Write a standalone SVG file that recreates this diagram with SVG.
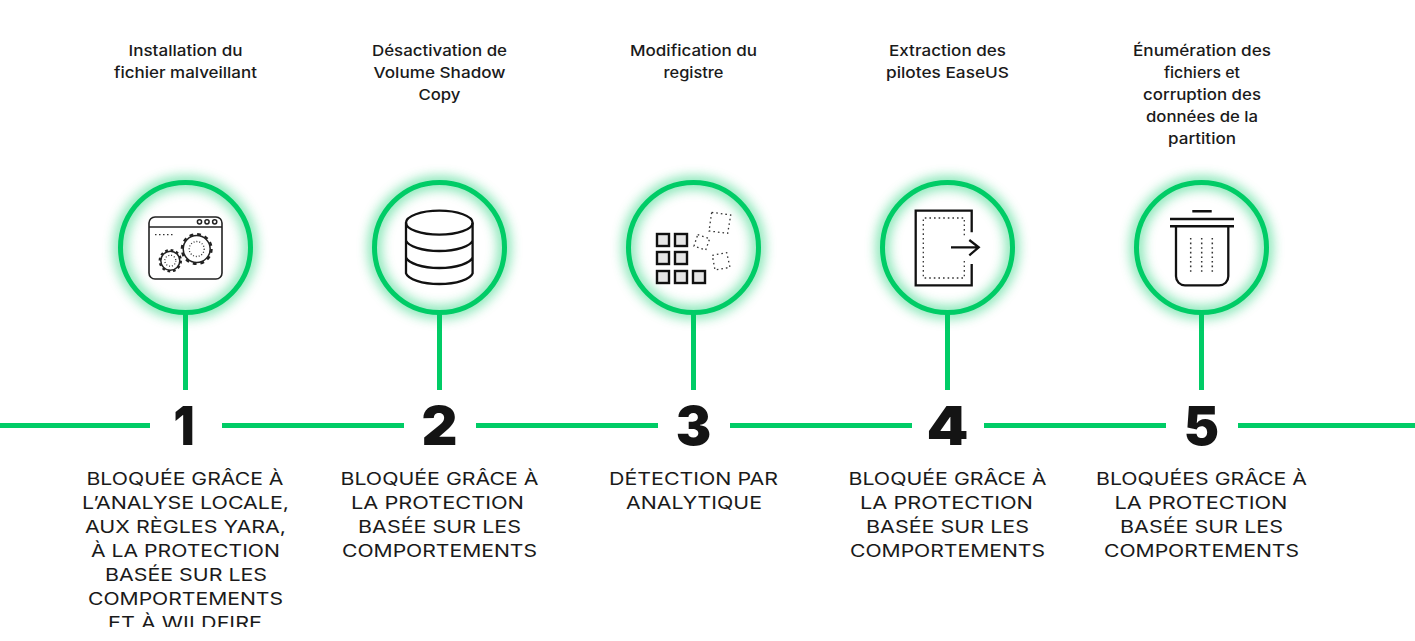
<svg xmlns="http://www.w3.org/2000/svg" width="1415" height="641" viewBox="0 0 1415 641">
<style>
.t{font-family:Inter,"Liberation Sans",sans-serif;font-size:15px;font-weight:500;fill:#1a1a1a;text-anchor:middle}
.b{font-family:Inter,"Liberation Sans",sans-serif;font-size:17px;font-weight:400;fill:#1a1a1a;text-anchor:middle}
.n{font-family:Inter,"Liberation Sans",sans-serif;font-size:53px;font-weight:900;fill:#141414;text-anchor:middle}
.bg{fill:#fff}
.ring{fill:none;stroke:#00cc66;stroke-width:5}
.glow{fill:none;stroke:#00cc66;stroke-width:9;opacity:.7;filter:url(#g)}
.c{fill:none;stroke:#00cc66;stroke-width:5}
.i{fill:none;stroke:#111;stroke-width:2.3}
.d{fill:none;stroke:#333;stroke-width:1.3;stroke-dasharray:1.6 3}
.s{fill:#e6e6e6;stroke:#111;stroke-width:2.4}
</style>
<defs>
<filter id="g" x="-30%" y="-30%" width="160%" height="160%"><feGaussianBlur stdDeviation="6.500"/></filter>
<clipPath id="clip"><rect x="0" y="0" width="1415" height="627"/></clipPath>
</defs>
<rect width="1415" height="641" fill="#fff"/>
<g id="connectors">
<path class="c" d="M0 425.500H150M222 425.500H404M476 425.500H658M730 425.500H912M984 425.500H1166M1238 425.500H1415"/>
<path class="c" d="M185.500 313V390M439.500 313V390M693.500 313V390M947.500 313V390M1201.500 313V390"/>
</g>
<g id="node-1">
<text class="t"><tspan x="185.500" y="56" textLength="114" lengthAdjust="spacingAndGlyphs">Installation du</tspan><tspan x="185.500" y="78" textLength="143" lengthAdjust="spacingAndGlyphs">fichier malveillant</tspan></text>
<circle class="bg" cx="185.500" cy="247.500" r="65"/><circle class="glow" cx="185.500" cy="247.500" r="65"/><circle class="ring" cx="185.500" cy="247.500" r="65"/>
<rect x="149" y="217" width="73" height="62" rx="6" fill="none" stroke="#222" stroke-width="1.600"/>
<path d="M149 227H222" fill="none" stroke="#222" stroke-width="1.600"/>
<circle cx="199.500" cy="221.800" r="2.100" fill="none" stroke="#222" stroke-width="1.500"/><circle cx="207" cy="221.800" r="2.100" fill="none" stroke="#222" stroke-width="1.500"/><circle cx="214.700" cy="221.800" r="2.100" fill="none" stroke="#222" stroke-width="1.500"/>
<path class="d" d="M155 234.700H173" style="stroke-dasharray:1.500 2.500"/>
<circle cx="170.300" cy="260.700" r="9.500" fill="#fff" stroke="#222" stroke-width="1.500"/>
<circle cx="170.300" cy="260.700" r="10.500" fill="none" stroke="#222" stroke-width="2.400" stroke-dasharray="2.700 2.800"/>
<circle cx="170.300" cy="260.700" r="5.500" class="d" style="stroke-dasharray:1 1.900"/>
<circle cx="196.700" cy="249" r="13.500" fill="#fff" stroke="#222" stroke-width="1.500"/>
<circle cx="196.700" cy="249" r="14.800" fill="none" stroke="#222" stroke-width="2.400" stroke-dasharray="3.800 3.950"/>
<circle cx="196.700" cy="249" r="7.500" class="d" style="stroke-dasharray:1 1.900"/>
<text class="n" x="184" y="445" textLength="21" lengthAdjust="spacingAndGlyphs">1</text>
<g clip-path="url(#clip)"><text class="b"><tspan x="185" y="485" textLength="197" lengthAdjust="spacingAndGlyphs">BLOQUÉE GRÂCE À</tspan><tspan x="185.500" y="509" textLength="207" lengthAdjust="spacingAndGlyphs">L’ANALYSE LOCALE,</tspan><tspan x="185.500" y="533" textLength="201" lengthAdjust="spacingAndGlyphs">AUX RÈGLES YARA,</tspan><tspan x="185.500" y="557" textLength="189" lengthAdjust="spacingAndGlyphs">À LA PROTECTION</tspan><tspan x="186" y="581" textLength="162" lengthAdjust="spacingAndGlyphs">BASÉE SUR LES</tspan><tspan x="185.500" y="605" textLength="195" lengthAdjust="spacingAndGlyphs">COMPORTEMENTS</tspan><tspan x="185" y="629" textLength="154" lengthAdjust="spacingAndGlyphs">ET À WILDFIRE</tspan></text></g>
</g>
<g id="node-2">
<text class="t"><tspan x="439.500" y="56" textLength="135" lengthAdjust="spacingAndGlyphs">Désactivation de</tspan><tspan x="439.500" y="78" textLength="132" lengthAdjust="spacingAndGlyphs">Volume Shadow</tspan><tspan x="439.500" y="100" textLength="42" lengthAdjust="spacingAndGlyphs">Copy</tspan></text>
<circle class="bg" cx="439.500" cy="247.500" r="65"/><circle class="glow" cx="439.500" cy="247.500" r="65"/><circle class="ring" cx="439.500" cy="247.500" r="65"/>
<ellipse class="i" cx="439.300" cy="222.700" rx="33.300" ry="12"/>
<path class="i" d="M406 222.700V273.300C408 279 422 284 439.300 284S470.600 279 472.600 273.300V222.700M406 240.700C408 246 422 251 439.300 251S470.600 246 472.600 240.700M406 257.500C408 263 422 268 439.300 268S470.600 263 472.600 257.500"/>
<text class="n" x="439.500" y="445" textLength="36" lengthAdjust="spacingAndGlyphs">2</text>
<text class="b"><tspan x="439.500" y="485" textLength="198" lengthAdjust="spacingAndGlyphs">BLOQUÉE GRÂCE À</tspan><tspan x="437.500" y="509" textLength="173" lengthAdjust="spacingAndGlyphs">LA PROTECTION</tspan><tspan x="439.500" y="533" textLength="163" lengthAdjust="spacingAndGlyphs">BASÉE SUR LES</tspan><tspan x="439.500" y="557" textLength="195" lengthAdjust="spacingAndGlyphs">COMPORTEMENTS</tspan></text>
</g>
<g id="node-3">
<text class="t"><tspan x="693.500" y="56" textLength="127" lengthAdjust="spacingAndGlyphs">Modification du</tspan><tspan x="693.500" y="78" textLength="60" lengthAdjust="spacingAndGlyphs">registre</tspan></text>
<circle class="bg" cx="693.500" cy="247.500" r="65"/><circle class="glow" cx="693.500" cy="247.500" r="65"/><circle class="ring" cx="693.500" cy="247.500" r="65"/>
<rect class="s" x="657" y="234" width="12" height="12"/><rect class="s" x="675" y="234" width="12" height="12"/>
<rect class="s" x="657" y="252" width="12" height="12"/><rect class="s" x="675" y="252" width="12" height="12"/>
<rect class="s" x="657" y="271" width="12" height="12"/><rect class="s" x="675" y="271" width="12" height="12"/><rect class="s" x="693" y="271" width="12" height="12"/>
<path class="d" d="M711.700 212.300L730.700 215L727.700 233.300L709 231Z"/>
<path class="d" d="M697.700 234.700L709.700 238.700L705.700 250L694 246Z"/>
<path class="d" d="M712.300 255.300L726.700 252.700L730 267.300L715 270Z"/>
<text class="n" x="693.500" y="445">3</text>
<text class="b"><tspan x="693.500" y="485" textLength="169" lengthAdjust="spacingAndGlyphs">DÉTECTION PAR</tspan><tspan x="694" y="509" textLength="136" lengthAdjust="spacingAndGlyphs">ANALYTIQUE</tspan></text>
</g>
<g id="node-4">
<text class="t"><tspan x="947.500" y="56" textLength="117" lengthAdjust="spacingAndGlyphs">Extraction des</tspan><tspan x="947.500" y="78" textLength="123" lengthAdjust="spacingAndGlyphs">pilotes EaseUS</tspan></text>
<circle class="bg" cx="947.500" cy="247.500" r="65"/><circle class="glow" cx="947.500" cy="247.500" r="65"/><circle class="ring" cx="947.500" cy="247.500" r="65"/>
<path class="i" d="M971.700 232.300V210.700H915.700V285.300H971.700V264"/>
<path class="d" d="M964.300 235.300V218H923.300V278H964.300V260.700"/>
<path class="i" d="M951 247.300H978M969.300 240L978.700 247.300L969.300 255.300"/>
<text class="n" x="947.500" y="445" textLength="42" lengthAdjust="spacingAndGlyphs">4</text>
<text class="b"><tspan x="947.500" y="485" textLength="198" lengthAdjust="spacingAndGlyphs">BLOQUÉE GRÂCE À</tspan><tspan x="946.500" y="509" textLength="173" lengthAdjust="spacingAndGlyphs">LA PROTECTION</tspan><tspan x="947.500" y="533" textLength="163" lengthAdjust="spacingAndGlyphs">BASÉE SUR LES</tspan><tspan x="947.500" y="557" textLength="195" lengthAdjust="spacingAndGlyphs">COMPORTEMENTS</tspan></text>
</g>
<g id="node-5">
<text class="t"><tspan x="1202" y="56" textLength="138" lengthAdjust="spacingAndGlyphs">Énumération des</tspan><tspan x="1202" y="78" textLength="76" lengthAdjust="spacingAndGlyphs">fichiers et</tspan><tspan x="1202" y="100" textLength="118" lengthAdjust="spacingAndGlyphs">corruption des</tspan><tspan x="1202" y="122" textLength="112" lengthAdjust="spacingAndGlyphs">données de la</tspan><tspan x="1202" y="144" textLength="68" lengthAdjust="spacingAndGlyphs">partition</tspan></text>
<circle class="bg" cx="1201.500" cy="247.500" r="65"/><circle class="glow" cx="1201.500" cy="247.500" r="65"/><circle class="ring" cx="1201.500" cy="247.500" r="65"/>
<path class="i" d="M1192.300 211.300H1211.700M1170 219H1234M1170 226.300H1234" style="stroke-width:2.500"/>
<path class="i" d="M1176 227V276.300C1176 281.500 1180 285.300 1185 285.300H1219C1224.500 285.300 1228.300 281.500 1228.300 276.300V227"/>
<path class="d" d="M1190.700 238V272M1201.700 238V272M1212.300 238V272" style="stroke-width:1.500"/>
<text class="n" x="1201.500" y="445">5</text>
<text class="b"><tspan x="1201.500" y="485" textLength="211" lengthAdjust="spacingAndGlyphs">BLOQUÉES GRÂCE À</tspan><tspan x="1201" y="509" textLength="173" lengthAdjust="spacingAndGlyphs">LA PROTECTION</tspan><tspan x="1201.500" y="533" textLength="163" lengthAdjust="spacingAndGlyphs">BASÉE SUR LES</tspan><tspan x="1201.500" y="557" textLength="195" lengthAdjust="spacingAndGlyphs">COMPORTEMENTS</tspan></text>
</g>
</svg>
